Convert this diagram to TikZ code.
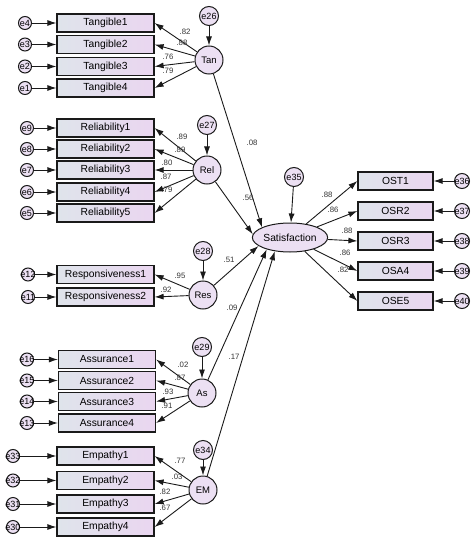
\documentclass[tikz,border=0pt]{standalone}
\usepackage{fontspec}
\setmainfont{Liberation Sans}
\usetikzlibrary{arrows.meta,shapes.geometric}
\definecolor{boxL}{HTML}{DFE4EB}
\definecolor{boxR}{HTML}{EAD6F0}
\definecolor{circF}{HTML}{ECE0F3}
\definecolor{lineC}{HTML}{1A1A1A}
\begin{document}
\begin{tikzpicture}[x=1pt,y=-1pt,
 obs/.style={draw=lineC,line width=1.2pt,left color=boxL,right color=boxR,minimum width=97pt,minimum height=18pt,inner sep=0pt,font=\fontsize{10.3}{12}\selectfont},
 robs/.style={obs,minimum width=75pt},
 lat/.style={circle,draw=lineC,line width=1pt,fill=circF,minimum size=28pt,inner sep=0pt,font=\fontsize{9.5}{10}\selectfont},
 err/.style={circle,draw=lineC,line width=1pt,fill=circF,minimum size=19pt,inner sep=0pt},
 serr/.style={circle,draw=lineC,line width=1pt,fill=circF,minimum size=13pt,inner sep=0pt},
 rerr/.style={circle,draw=lineC,line width=1pt,fill=circF,minimum size=15pt,inner sep=0pt},
 elab/.style={font=\fontsize{9}{10}\selectfont,inner sep=0pt},
 arr/.style={-{Latex[length=9pt,width=6pt]},line width=0.9pt,draw=lineC},
 lab/.style={font=\fontsize{7.8}{8}\selectfont,inner sep=0pt,text=black!80}]
\useasboundingbox (0,0) rectangle (474,540);

% ---------- Tangible ----------
\node[obs] (t1) at (105.5,23) {Tangible1};
\node[obs] (t2) at (105.5,44.5) {Tangible2};
\node[obs] (t3) at (105.5,66.5) {Tangible3};
\node[obs] (t4) at (105.5,88) {Tangible4};
\node[serr,label={[elab]center:e4}] (e4) at (25,23) {};
\node[serr,label={[elab]center:e3}] (e3) at (25,44.5) {};
\node[serr,label={[elab]center:e2}] (e2) at (25,66.5) {};
\node[serr,label={[elab]center:e1}] (e1) at (25,88) {};
\node[lat] (tan) at (209,60) {Tan};
\node[err,label={[elab]center:e26}] (e26) at (209,16) {};

% ---------- Reliability ----------
\node[obs] (r1) at (105.5,128) {Reliability1};
\node[obs] (r2) at (105.5,149) {Reliability2};
\node[obs] (r3) at (105.5,170) {Reliability3};
\node[obs] (r4) at (105.5,192) {Reliability4};
\node[obs] (r5) at (105.5,213) {Reliability5};
\node[serr,label={[elab]center:e9}] (e9) at (27,128) {};
\node[serr,label={[elab]center:e8}] (e8) at (27,149) {};
\node[serr,label={[elab]center:e7}] (e7) at (27,170) {};
\node[serr,label={[elab]center:e6}] (e6) at (27,192) {};
\node[serr,label={[elab]center:e5}] (e5) at (27,213) {};
\node[lat] (rel) at (207,170) {Rel};
\node[err,label={[elab]center:e27}] (e27) at (207,125) {};

% ---------- Responsiveness ----------
\node[obs] (s1) at (105.5,274.5) {Responsiveness1};
\node[obs] (s2) at (105.5,297) {Responsiveness2};
\node[serr,label={[elab]center:e12}] (e12) at (28,274.5) {};
\node[serr,label={[elab]center:e11}] (e11) at (28,297) {};
\node[lat] (res) at (203,295) {Res};
\node[err,label={[elab]center:e28}] (e28) at (203,251) {};

% ---------- Assurance ----------
\node[obs] (a1) at (107,359.5) {Assurance1};
\node[obs] (a2) at (107,380.5) {Assurance2};
\node[obs] (a3) at (107,401.5) {Assurance3};
\node[obs] (a4) at (107,423) {Assurance4};
\node[serr,label={[elab]center:e16}] (e16) at (27,359.5) {};
\node[serr,label={[elab]center:e15}] (e15) at (27,380.5) {};
\node[serr,label={[elab]center:e14}] (e14) at (27,401.5) {};
\node[serr,label={[elab]center:e13}] (e13) at (27,423) {};
\node[lat] (as) at (202,393) {As};
\node[err,label={[elab]center:e29}] (e29) at (202,347) {};

% ---------- Empathy ----------
\node[obs] (m1) at (105.5,456) {Empathy1};
\node[obs] (m2) at (105.5,480.5) {Empathy2};
\node[obs] (m3) at (105.5,504) {Empathy3};
\node[obs] (m4) at (105.5,527) {Empathy4};
\node[serr,label={[elab]center:e33}] (e33) at (13,456) {};
\node[serr,label={[elab]center:e32}] (e32) at (13,480.5) {};
\node[serr,label={[elab]center:e31}] (e31) at (13,504) {};
\node[serr,label={[elab]center:e30}] (e30) at (13,527) {};
\node[lat] (em) at (203,490) {EM};
\node[err,label={[elab]center:e34}] (e34) at (203,450) {};

% ---------- Satisfaction ----------
\node[ellipse,draw=lineC,line width=1pt,fill=circF,minimum width=70pt,minimum height=29pt,inner sep=0pt,font=\fontsize{10.3}{12}\selectfont] (sat) at (290,237.5) {Satisfaction};
\node[err,label={[elab]center:e35}] (e35) at (294,177) {};

\node[robs] (o1) at (395.5,181) {OST1};
\node[robs] (o2) at (395.5,211) {OSR2};
\node[robs] (o3) at (395.5,241) {OSR3};
\node[robs] (o4) at (395.5,271) {OSA4};
\node[robs] (o5) at (395.5,301) {OSE5};
\node[rerr,label={[elab]center:e36}] (e36) at (462,181) {};
\node[rerr,label={[elab]center:e37}] (e37) at (462,211) {};
\node[rerr,label={[elab]center:e38}] (e38) at (462,241) {};
\node[rerr,label={[elab]center:e39}] (e39) at (462,271) {};
\node[rerr,label={[elab]center:e40}] (e40) at (462,301) {};

% ---------- connectors ----------
\foreach \e/\b in {e4/t1,e3/t2,e2/t3,e1/t4,e9/r1,e8/r2,e7/r3,e6/r4,e5/r5,e12/s1,e11/s2,e16/a1,e15/a2,e14/a3,e13/a4,e33/m1,e32/m2,e31/m3,e30/m4}
  \draw[arr] (\e) -- (\b);
\foreach \l/\b in {tan/t1,tan/t2,tan/t3,tan/t4,rel/r1,rel/r2,rel/r3,rel/r4,rel/r5,res/s1,res/s2,as/a1,as/a2,as/a3,as/a4,em/m1,em/m2,em/m3,em/m4}
  \draw[arr] (\l) -- (\b.east);
\foreach \e/\l in {e26/tan,e27/rel,e28/res,e29/as,e34/em,e35/sat}
  \draw[arr] (\e) -- (\l);
\draw[arr] (tan) -- (sat.160);
\draw[arr] (rel) -- (sat.175);
\draw[arr] (res) -- (sat.195);
\draw[arr] (as) -- (sat.207);
\draw[arr] (em) -- (sat.222);
\foreach \b in {o1,o2,o3,o4,o5}
  \draw[arr] (sat) -- (\b.west);
\foreach \e/\b in {e36/o1,e37/o2,e38/o3,e39/o4,e40/o5}
  \draw[arr] (\e) -- (\b);

% ---------- coefficient labels ----------
\node[lab] (l1) at (185,32) {.82};
\node[lab] (l2) at (182,43) {.88};
\node[lab] (l3) at (168,57) {.76};
\node[lab] (l4) at (168,71) {.79};
\node[lab] (l5) at (182,137) {.89};
\node[lab] (l6) at (180,150) {.89};
\node[lab] (l7) at (167,163) {.80};
\node[lab] (l8) at (166,177) {.87};
\node[lab] (l9) at (167,190) {.79};
\node[lab] (l10) at (180,276) {.95};
\node[lab] (l11) at (166,290) {.92};
\node[lab] (l12) at (183,365) {.02};
\node[lab] (l13) at (180,378) {.87};
\node[lab] (l14) at (168,392) {.93};
\node[lab] (l15) at (167,406) {.91};
\node[lab] (l16) at (180,461) {.77};
\node[lab] (l17) at (177,477) {.03};
\node[lab] (l18) at (165,492) {.82};
\node[lab] (l19) at (165,508) {.67};
\node[lab] (l20) at (252,143) {.08};
\node[lab] (l21) at (248,198) {.56};
\node[lab] (l22) at (229,260) {.51};
\node[lab] (l23) at (232,308) {.09};
\node[lab] (l24) at (234,357) {.17};
\node[lab] (l25) at (327,195) {.88};
\node[lab] (l26) at (333,210) {.86};
\node[lab] (l27) at (347,231) {.88};
\node[lab] (l28) at (345,253) {.86};
\node[lab] (l29) at (343,270) {.82};
\end{tikzpicture}
\end{document}
